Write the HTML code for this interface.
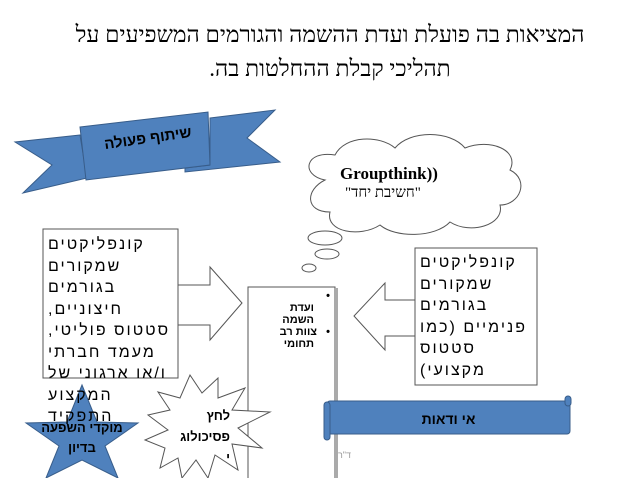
<!DOCTYPE html>
<html><head><meta charset="utf-8"><style>
body{margin:0;width:638px;height:478px;overflow:hidden;background:#fff;position:relative;font-family:"Liberation Sans","Noto Sans CJK SC",sans-serif}
.t{position:absolute;direction:rtl;white-space:nowrap}
svg{position:absolute;left:0;top:0}
</style></head><body>
<svg width="638" height="478" viewBox="0 0 638 478">
<!-- ribbon -->
<polygon points="80,135 15,142 52,165 23,193 87,178" fill="#4f81bd" stroke="#385d8a"/>
<polygon points="210,118 275,110 247,138 280,162 185,172 185,168 210,165" fill="#4f81bd" stroke="#385d8a"/>
<polygon points="80,127 208,112 210,165 86,180" fill="#4f81bd" stroke="#385d8a"/>
<!-- cloud -->
<g fill="#fff" stroke="#555" stroke-width="1">
<path d="M325,180 C300,175 305,150 335,155 C345,135 380,135 395,148 C410,130 450,130 465,148 C490,138 520,150 510,170 C530,180 520,205 500,205 C505,225 470,235 450,222 C435,238 395,238 380,225 C360,238 325,232 330,212 C305,212 305,190 325,180 Z"/>
<ellipse cx="325" cy="238" rx="17" ry="7"/>
<ellipse cx="327" cy="254" rx="12" ry="5"/>
<ellipse cx="309" cy="268" rx="7" ry="4"/>
</g>
<!-- left box & arrow -->
<rect x="43" y="229" width="135" height="149" fill="#fff" stroke="#555"/>
<polygon points="178,285 210,285 210,267 242,303 210,340 210,325 178,325" fill="#fff" stroke="#555"/>
<!-- center box -->
<rect x="248" y="287" width="87" height="200" fill="#fff" stroke="#555"/>
<line x1="337" y1="288" x2="337" y2="478" stroke="#555"/>
<!-- right box & arrow -->
<rect x="415" y="248" width="122" height="137" fill="#fff" stroke="#555"/>
<polygon points="415,300 385,300 385,283 354,316 385,350 385,336 415,336" fill="#fff" stroke="#555"/>
<!-- scroll -->
<rect x="327" y="401" width="243" height="33" rx="3" fill="#4f81bd" stroke="#385d8a"/>
<rect x="324" y="402" width="6" height="38" rx="3" fill="#4f81bd" stroke="#385d8a"/>
<rect x="565" y="396" width="6" height="10" rx="3" fill="#4f81bd" stroke="#385d8a"/>
<!-- star -->
<polygon points="82,385 97,422 138,423 105,446 118,478 82,460 46,478 59,446 26,423 67,422" fill="#4f81bd" stroke="#385d8a"/>
<!-- explosion -->
<polygon points="190,375 202,393 218,378 218,398 245,388 232,410 270,412 238,428 262,448 232,444 238,470 215,455 208,478 196,460 182,478 178,458 160,468 165,448 145,440 168,430 148,415 170,410 158,392 180,398" fill="#fff" stroke="#555"/>
</svg>
<div class="t" style="left:60px;top:18px;width:540px;text-align:center;font-family:'Liberation Serif',serif;font-size:23px;line-height:34px">המציאות בה פועלת ועדת ההשמה והגורמים המשפיעים על<br>תהליכי קבלת ההחלטות בה.</div>
<div class="t" style="left:104px;top:130px;font-size:15px;font-weight:bold;transform:rotate(-8deg)">שיתוף פעולה</div>
<div class="t" style="left:340px;top:164px;font-family:'Liberation Serif',serif;font-size:17px;font-weight:bold;direction:ltr">Groupthink))</div>
<div class="t" style="left:345px;top:185px;font-family:'Liberation Serif',serif;font-size:15px">"חשיבת יחד"</div>
<div class="t" style="left:48px;top:234px;width:128px;text-align:left;font-size:16px;line-height:21.5px;letter-spacing:2px">קונפליקטים<br>שמקורים<br>בגורמים<br>חיצוניים,<br>סטטוס פוליטי,<br>מעמד חברתי<br>ו/או ארגוני של<br>המקצוע<br>התפקיד</div>
<div class="t" style="left:250px;top:290px;width:80px;font-size:11px;font-weight:bold;line-height:12px;text-align:right">•<br><span style="margin-right:16px">ועדת</span><br><span style="margin-right:16px">השמה</span><br>•&nbsp;&nbsp;&nbsp;צוות רב<br><span style="margin-right:16px">תחומי</span></div>
<div class="t" style="left:420px;top:252px;width:115px;text-align:left;font-size:16px;line-height:21.5px;letter-spacing:2px">קונפליקטים<br>שמקורים<br>בגורמים<br>פנימיים (כמו<br>סטטוס<br>מקצועי)</div>
<div class="t" style="left:327px;top:411px;width:243px;text-align:center;font-size:14px;font-weight:bold">אי ודאות</div>
<div class="t" style="left:30px;top:418px;width:104px;text-align:center;font-size:13px;font-weight:bold;line-height:20px">מוקדי השפעה<br>בדיון</div>
<div class="t" style="left:180px;top:405px;width:50px;text-align:right;font-size:13px;font-weight:bold;line-height:21px">לחץ<br>פסיכולוג<br>י</div>
<div class="t" style="left:338px;top:450px;font-size:9px;color:#999">ד"ר</div>
</body></html>
